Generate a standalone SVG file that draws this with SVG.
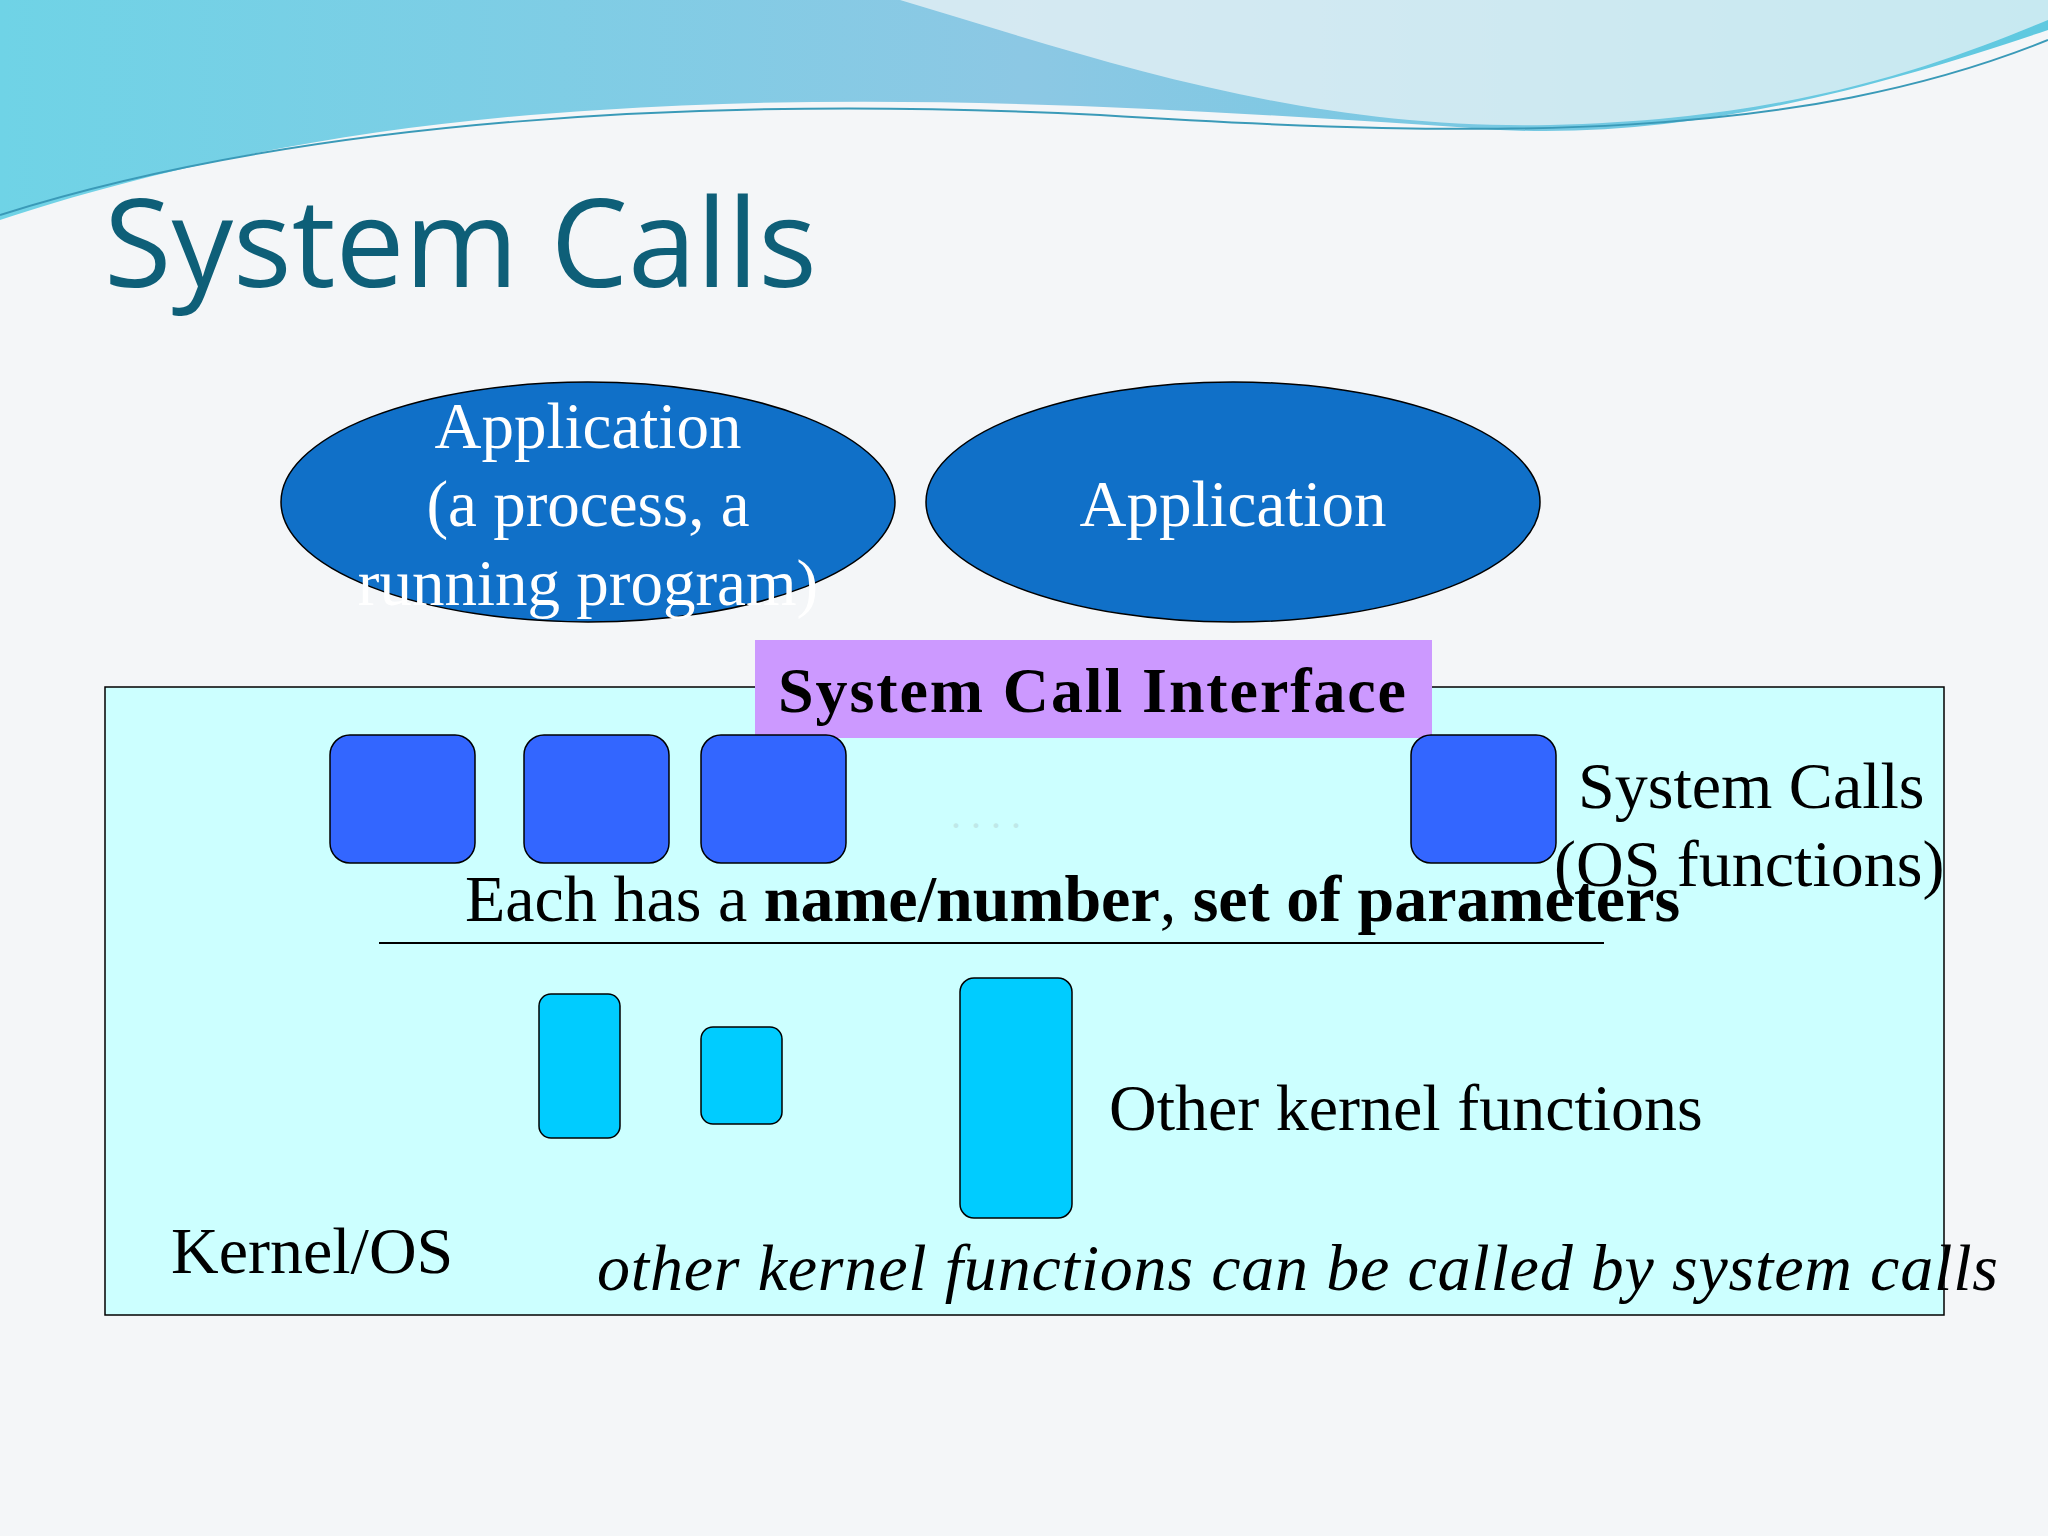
<svg xmlns="http://www.w3.org/2000/svg" width="2048" height="1536" viewBox="0 0 2048 1536">
<defs>
<linearGradient id="wave" x1="0" y1="0" x2="1" y2="0">
<stop offset="0" stop-color="#6fd3e6"/><stop offset="0.5" stop-color="#8cc8e4"/><stop offset="1" stop-color="#5fc9e0"/>
</linearGradient>
<style>
.s{font-family:"Liberation Serif",serif;font-size:66px;fill:#000}
.w{font-family:"Liberation Serif",serif;font-size:65px;fill:#fff;text-anchor:middle}
.sq{fill:#3366ff;stroke:#000;stroke-width:1.5}
.cy{fill:#00ccff;stroke:#000;stroke-width:1.5}
.el{fill:#1070c8;stroke:#000;stroke-width:1.5}
</style>
</defs>
<rect width="2048" height="1536" fill="#f4f6f8"/>
<g id="background-wave">
<path d="M0 0 H2048 V30 C1900 80 1700 140 1500 130 C1200 110 900 90 600 110 C350 125 150 170 0 220 Z" fill="url(#wave)"/>
<path d="M900 0 C1100 60 1300 130 1550 125 C1800 120 1950 60 2048 20 V0 Z" fill="#f4f6f8" opacity="0.7"/>
<path d="M0 215 C300 120 700 95 1100 115 C1500 140 1800 140 2048 40" fill="none" stroke="#3a9ab8" stroke-width="2"/>
</g>
<text x="104" y="287" font-family="'Open Sans','Noto Sans',sans-serif" font-size="123" fill="#0e5f78">System Calls</text>
<g id="kernel">
<rect x="105" y="687" width="1839" height="628" fill="#ccffff" stroke="#000" stroke-width="1.5"/>
<text class="s" x="171" y="1273">Kernel/OS</text>
</g>
<g id="app1">
<ellipse class="el" cx="588" cy="502" rx="307" ry="120"/>
<text class="w" x="588" y="448">Application</text>
<text class="w" x="588" y="526">(a process, a</text>
<text class="w" x="588" y="605">running program)</text>
</g>
<g id="app2">
<ellipse class="el" cx="1233" cy="502" rx="307" ry="120"/>
<text class="w" x="1233" y="526">Application</text>
</g>
<g id="sci">
<rect x="755" y="640" width="677" height="98" fill="#cc99ff"/>
<text x="1092" y="712" font-family="'Liberation Serif',serif" font-weight="bold" font-size="64" text-anchor="middle" textLength="628">System Call Interface</text>
</g>
<g id="syscalls">
<rect class="sq" x="330" y="735" width="145" height="128" rx="20"/>
<rect class="sq" x="524" y="735" width="145" height="128" rx="20"/>
<rect class="sq" x="701" y="735" width="145" height="128" rx="20"/>
<rect class="sq" x="1411" y="735" width="145" height="128" rx="20"/>
<text x="986" y="828" font-family="'Liberation Serif',serif" font-size="40" fill="#bfe8e8" text-anchor="middle">. . . .</text>
<text class="s" x="1578" y="808">System Calls</text>
<text class="s" x="1554" y="886">(OS functions)</text>
</g>
<g id="params">
<text class="s" x="465" y="921">Each has a <tspan font-weight="bold">name/number</tspan>, <tspan font-weight="bold">set of parameters</tspan></text>
</g>
<g id="connectors">
<line x1="379" y1="943" x2="1604" y2="943" stroke="#000" stroke-width="2"/>
</g>
<g id="kernelfuncs">
<rect class="cy" x="539" y="994" width="81" height="144" rx="12"/>
<rect class="cy" x="701" y="1027" width="81" height="97" rx="12"/>
<rect class="cy" x="960" y="978" width="112" height="240" rx="14"/>
<text class="s" x="1109" y="1130">Other kernel functions</text>
</g>
<text class="s" x="597" y="1290" font-style="italic" textLength="1401">other kernel functions can be called by system calls</text>
</svg>
